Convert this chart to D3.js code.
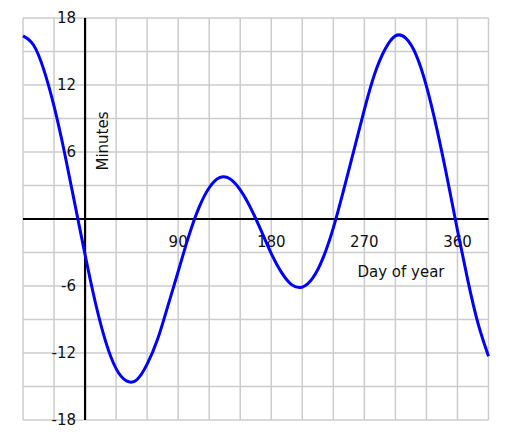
<!DOCTYPE html>
<html>
<head>
<meta charset="utf-8">
<script src="https://cdn.jsdelivr.net/npm/d3@7"></script>
<style>
body { margin: 0; background: #fff; }
svg { display: block; }
text { font-family: "DejaVu Sans", sans-serif; font-size: 15px; fill: #111; }
</style>
</head>
<body>
<div class="canvas"></div>
<script>
// days, every 10 days
var days = [-60, -50, -40, -30, -20, -10, 0, 10, 20, 30, 40, 50, 60, 70, 80, 90, 100,
	110, 120, 130, 140, 150, 160, 170, 180, 190, 200, 210, 220, 230, 240, 250, 260,
	270, 280, 290, 300, 310, 320, 330, 340, 350, 360, 370, 380, 390];
var minutes = [16.4, 15.6, 13.4, 10.1, 6.0, 1.4, -3.2, -7.5, -11.0, -13.4, -14.5, -14.4,
	-13.0, -10.8, -7.8, -4.7, -1.6, 1.0, 2.8, 3.7, 3.6, 2.6, 1.0, -1.0, -3.1, -4.8, -5.9,
	-6.1, -5.3, -3.5, -0.8, 2.6, 6.2, 9.8, 13.0, 15.2, 16.4, 16.2, 14.7, 11.9, 8.1, 3.7,
	-1.0, -5.5, -9.4, -12.3];
var x_ticks = [90, 180, 270, 360];
var y_ticks = [18, 12, 6, -6, -12, -18];
var x_label = "Day of year";
var y_label = "Minutes";

var width = 512, height = 439;
var svg = d3.select("div.canvas").append("svg")
	.attr("width", width).attr("height", height);

var x = d3.scaleLinear().domain([-60, 390]).range([23, 488.5]);
var y = d3.scaleLinear().domain([-18, 18]).range([420, 18]);

// grid
var grid = svg.append("g").attr("stroke", "#cccccc").attr("stroke-width", 1.5);
d3.range(-60, 391, 30).forEach(function(d) {
	grid.append("line")
		.attr("x1", x(d)).attr("x2", x(d))
		.attr("y1", y(18)).attr("y2", y(-18));
});
d3.range(-18, 19, 3).forEach(function(d) {
	grid.append("line")
		.attr("x1", x(-60)).attr("x2", x(390))
		.attr("y1", y(d)).attr("y2", y(d));
});

// axes through zero
svg.append("line")
	.attr("x1", x(0)).attr("x2", x(0))
	.attr("y1", y(18)).attr("y2", y(-18))
	.attr("stroke", "#000").attr("stroke-width", 2.2);
svg.append("line")
	.attr("x1", x(-60)).attr("x2", x(390))
	.attr("y1", y(0)).attr("y2", y(0))
	.attr("stroke", "#000").attr("stroke-width", 2.2);

// tick labels
svg.selectAll("text.ytick").data(y_ticks).enter().append("text")
	.attr("class", "ytick")
	.attr("x", x(0) - 9)
	.attr("y", function(d) { return y(d); })
	.attr("dy", "0.36em")
	.attr("text-anchor", "end")
	.text(function(d) { return d; });

svg.selectAll("text.xtick").data(x_ticks).enter().append("text")
	.attr("class", "xtick")
	.attr("x", function(d) { return x(d); })
	.attr("y", 247)
	.attr("text-anchor", "middle")
	.text(function(d) { return d; });

svg.append("text")
	.attr("transform", "translate(108, 141) rotate(-90)")
	.attr("text-anchor", "middle")
	.text(y_label);

svg.append("text")
	.attr("x", 401).attr("y", 277)
	.attr("text-anchor", "middle")
	.text(x_label);

// curve
var line = d3.line()
	.x(function(d, i) { return x(days[i]); })
	.y(function(d) { return y(d); })
	.curve(d3.curveNatural);

svg.append("path")
	.attr("d", line(minutes))
	.attr("fill", "none")
	.attr("stroke", "#0000ff")
	.attr("stroke-width", 3);
</script>
</body>
</html>
